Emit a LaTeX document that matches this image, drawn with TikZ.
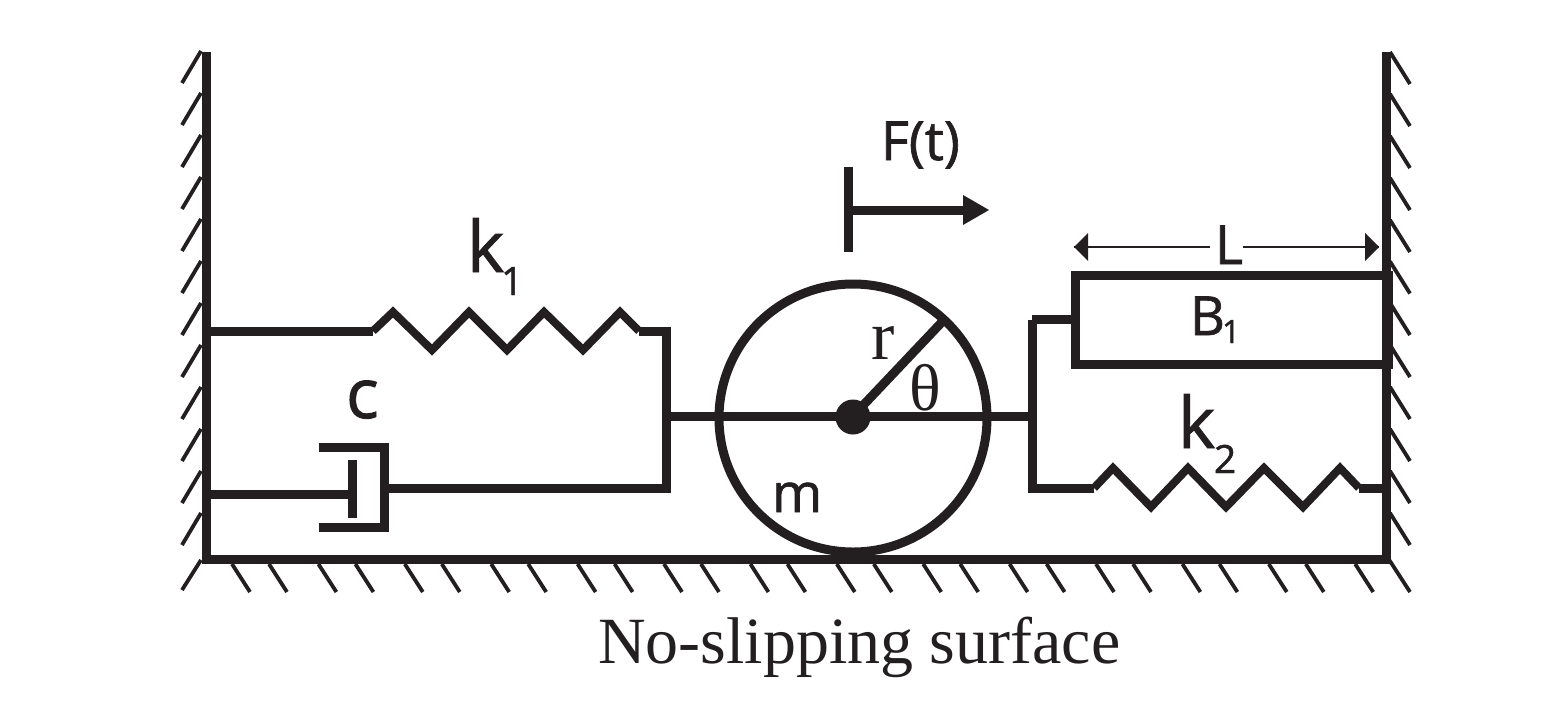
\documentclass[tikz,border=0pt]{standalone}
\usepackage{fontspec}
\setmainfont{Liberation Serif}
\newfontfamily\lab[RawFeature={embolden=1.2}]{Open Sans}
\usetikzlibrary{arrows.meta}
\definecolor{ink}{HTML}{231F20}
\newcommand{\fs}[1]{\fontsize{#1}{#1}\selectfont}
\tikzset{
  heavy/.style={draw=ink,line width=9pt,line join=miter},
  spring/.style={draw=ink,line width=8pt,line join=miter},
  hatch/.style={draw=ink,line width=3.8pt},
  thin/.style={draw=ink,line width=1.8pt},
  txt/.style={anchor=base west,inner sep=0pt,outer sep=0pt,text=ink},
}
\begin{document}
\begin{tikzpicture}[x=1pt,y=-1pt]
\useasboundingbox (0,0) rectangle (1568,718);
\fill[white] (0,0) rectangle (1568,718);
% hatching
\foreach \y in {83,125,167,209,251,293,335,377,419,461,503,545}
  \draw[hatch] (201,\y-32) -- (182,\y);
\draw[hatch] (201,560) -- (182,590);
\foreach \y in {84,126,168,210,252,293.5,335,377,419,461,503,545}
  \draw[hatch] (1390,\y-32) -- (1410,\y);
\draw[hatch] (1388,558) -- (1410,592);
\foreach \k in {0,...,13} \draw[hatch] ({232+86.4*\k},564) -- ({250+86.4*\k},592);
\foreach \k in {0,...,12} \draw[hatch] ({269+86.4*\k},564) -- ({287+86.4*\k},592);
% key points
\coordinate (wlT) at (206,52);
\coordinate (wlB) at (206,559);
\coordinate (wrT) at (1386,52);
\coordinate (wrB) at (1386,559);
\coordinate (cen) at (853,416);
\coordinate (jl) at (666,416);
\coordinate (jr) at (1036,416);
% frame
\draw[heavy] (wlT) -- (wlB) -- (wrB) -- (wrT);
% k1 spring
\coordinate (k1a) at (206,331);
\coordinate (k1b) at (373,331);
\coordinate (k1c) at (639,331);
\coordinate (k1d) at (666,331);
\draw[heavy] (k1a) -- (k1b);
\draw[spring] (k1b) -- (393,312) -- (432,350) -- (469,312) -- (507,350) -- (544,312) -- (583,350) -- (620,312) -- (k1c);
\draw[heavy] (k1c) -- (k1d) -- (666,488) -- (384,488);
% damper
\coordinate (damp) at (352,494);
\draw[heavy] (206,494) -- (damp);
\draw[heavy] (352,460) -- (352,518);
\draw[heavy] (319,447) -- (384,447) -- (384,527) -- (319,527);
% wheel
\draw[heavy] (jl) -- (jr);
\node[circle,draw=ink,line width=9pt,minimum size=268pt,inner sep=0pt,outer sep=0pt] (wheel) at (853,418) {};
\draw[heavy] (cen) -- (942,322);
\node[circle,fill=ink,minimum size=35pt,inner sep=0pt] (hub) at (853,417) {};
% right side
\draw[heavy] (1032,320) -- (1032,493);
\draw[heavy] (1032,319.5) -- (1075,319.5);
\node[draw=ink,line width=9pt,minimum width=313pt,minimum height=89pt,inner sep=0pt,outer sep=0pt] (box) at (1231.5,319.5) {};
\draw[heavy] (1032,488) -- (1094,488);
\draw[spring] (1094,488) -- (1113,468) -- (1151,507) -- (1188,468) -- (1226,507) -- (1264,468) -- (1303,507) -- (1340,468) -- (1359,488);
\draw[heavy] (1359,488) -- (1386,488);
% F(t)
\draw[heavy] (848,167) -- (848,252);
\coordinate (fa) at (848,210);
\coordinate (fb) at (989,210);
\draw[heavy] (fa) -- (965,210);
\fill[ink] (fb) -- (963,195) -- (963,225) -- cycle;
% L
\coordinate (la) at (1074,247);
\coordinate (lb) at (1379,247);
\draw[thin] (la) -- (1210,247);
\draw[thin] (1243,247) -- (lb);
\fill[ink] (la) -- (1088,233) -- (1088,261) -- cycle;
\fill[ink] (lb) -- (1365,233) -- (1365,261) -- cycle;
% labels
\node[txt,font=\lab\fs{54}] (tF) at (881,160) {F(t)};
\node[txt,font=\lab\fs{54}] (tL) at (1215,264) {L};
\node[txt,font=\lab\fs{71}] (tk1) at (467,272) {k};
\node[txt,font=\lab\fs{39}] (tk1s) at (501,295) {1};
\node[txt,font=\lab\fs{54}] (tB) at (1190,335) {B};
\node[txt,font=\lab\fs{32}] (tBs) at (1222,343) {1};
\node[txt,font=\lab\fs{71}] (tk2) at (1178,448) {k};
\node[txt,font=\lab\fs{39}] (tk2s) at (1214,473) {2};
\node[txt,font=\lab\fs{69}] (tc) at (346,418) {c};
\node[txt,font=\lab\fs{54}] (tm) at (772,512) {m};
\node[txt,font=\fs{70}] (tr) at (871,359) {r};
\node[txt,font=\fs{66}] (tt) at (909,410) {θ};
\node[txt,font=\fs{66}] (ts) at (598,663) {No-slipping surface};
\end{tikzpicture}
\end{document}
